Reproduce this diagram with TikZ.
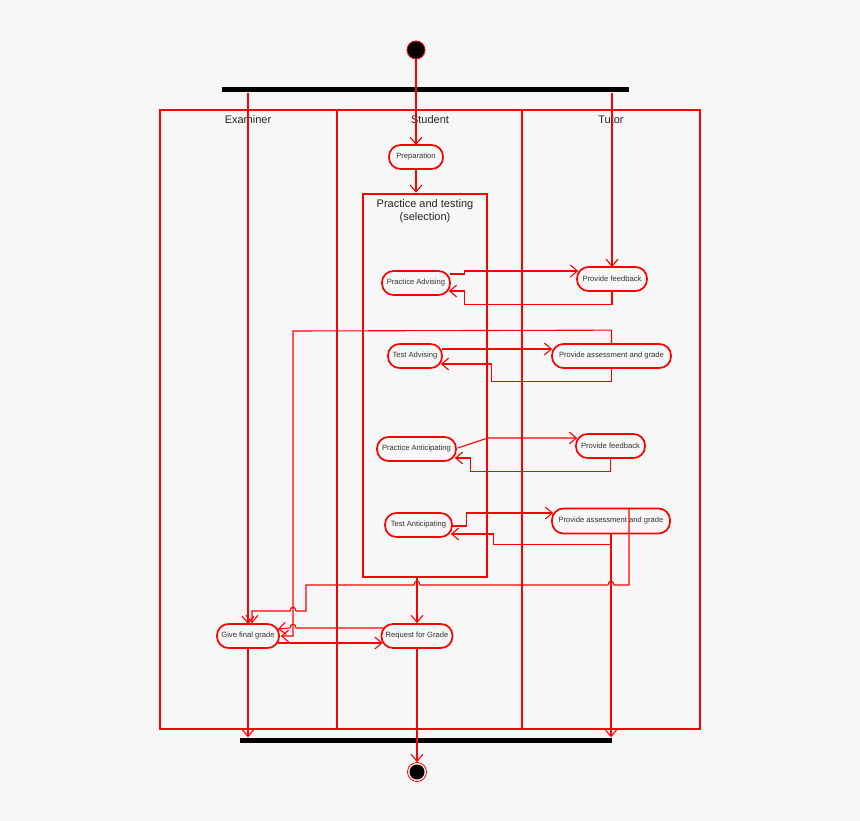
\documentclass[tikz,border=0pt]{standalone}
\usepackage{fontspec}
\setmainfont{Liberation Sans}
\usetikzlibrary{arrows.meta,calc}
\definecolor{bg}{HTML}{F7F7F7}
\definecolor{ured}{HTML}{FF0000}
\definecolor{txt}{HTML}{333333}
\begin{document}
\begin{tikzpicture}[x=1pt,y=-1pt,
  act/.style={draw=ured,line width=1.7pt,rounded corners=11.5pt,fill=bg,inner sep=0pt,minimum height=24pt,text=txt,font=\fontsize{7.6}{9}\selectfont},
  flow/.style={draw=ured,line width=1.1pt,-{Straight Barb[length=7pt,width=12pt]}},
  lane/.style={draw=ured,line width=2.6pt},
  barnode/.style={fill=black,inner sep=0pt,minimum height=5pt},
  title/.style={font=\fontsize{11}{13}\selectfont,text=black!85,inner sep=0pt}]
\fill[bg] (0,0) rectangle (860,821);
\useasboundingbox (0,0) rectangle (860,821);
% swimlanes
\draw[lane] (160,110) rectangle (700,729);
\draw[lane] (337,110) -- (337,729);
\draw[lane] (522,110) -- (522,729);
\node[title] (lex) at (248,120) {Examiner};
\node[title] (lst) at (430,120) {Student};
\node[title] (ltu) at (611,120) {Tutor};
% bars
\node[barnode,minimum width=407pt] (fork) at (425.5,90) {};
\node[barnode,minimum width=372pt] (join) at (426,740) {};
% start / end
\node[circle,fill=black,draw=ured,line width=0.8pt,minimum size=18pt,inner sep=0pt] (start) at (416,50) {};
\node[circle,draw=ured,line width=0.8pt,minimum size=19pt,inner sep=0pt] (endo) at (417,772) {};
\node[circle,fill=black,minimum size=15pt,inner sep=0pt] (endi) at (417,772) {};
% composite box
\node[draw=ured,line width=2.6pt,minimum width=124pt,minimum height=383pt,inner sep=0pt] (box) at (425,385.5) {};
\node[font=\fontsize{11}{13.5}\selectfont,align=center,text=black!85,inner sep=0pt] (boxt) at (425,211) {Practice and testing\\(selection)};
% connectors from fork
\draw[flow] (start.south) -- (416,145);
\draw[flow] (fork.south -| 248,0) -- (248,624);
\draw[flow] (fork.south -| 612,0) -- (612,267);
\draw[flow] (416,169) -- (box.north -| 416,0);
% nodes
\node[act,minimum width=54pt] (prep) at (416,157) {Preparation};
\node[act,minimum width=68pt] (pa) at (416,283) {Practice Advising};
\node[act,minimum width=70pt] (pf1) at (612,279) {Provide feedback};
\node[act,minimum width=54pt] (ta) at (415,356) {Test Advising};
\node[act,minimum width=119pt] (pag1) at (611.5,356) {Provide assessment and grade};
\node[act,minimum width=79pt] (pant) at (416.5,449) {Practice Anticipating};
\node[act,minimum width=69pt] (pf2) at (610.5,446) {Provide feedback};
\node[act,minimum width=67pt] (tant) at (418.5,525) {Test Anticipating};
\node[act,minimum width=118pt,minimum height=25pt] (pag2) at (611,521) {Provide assessment and grade};
\node[act,minimum width=71pt] (rfg) at (417,636) {Request for Grade};
\node[act,minimum width=62pt] (gfg) at (248,636) {Give final grade};
% flows between activities
\draw[flow] ($(pa.east)+(-1,-9)$) -- ++(15,0) -- ++(0,-3) -- ($(pf1.west)+(2,-8)$);
\draw[flow] (pf1.south) -- ++(0,13) -| ($(pa.east)+(14,8)$) -- ($(pa.east)+(-2,8)$);
\draw[flow] ($(ta.east)+(-1,-7)$) -- ($(pag1.west)+(1,-7)$);
\draw[flow] (pag1.south) -- ++(0,13) -| ($(ta.east)+(49,8)$) -- ($(ta.east)+(-2,8)$);
\draw[flow] (pag1.north) -- ++(0,-13) -- (293,331) -- (293,636) -- ($(gfg.east)+(1,0)$);
\draw[flow] ($(pant.east)+(1,-1)$) -- (488,438) -- ($(pf2.west)+(2,-8)$);
\draw[flow] (pf2.south) -- ++(0,13) -| ($(pant.east)+(14,9)$) -- ($(pant.east)+(-2,9)$);
\draw[flow] ($(tant.east)+(-1,1)$) -- ++(15,0) |- ($(pag2.west)+(2,-8)$);
\draw[flow] (pag2.south) -- ++(0,10) -| ($(tant.east)+(41,9)$) -- ($(tant.east)+(-2,9)$);
\draw[flow] (pag2.south) -- (pag2.south |- join.north);
\draw[flow] (box.south -| rfg.north) -- (rfg.north);
\draw[flow] ($(rfg.west)+(3,-8)$) -- (296,628) .. controls (296,623) and (290,623) .. (290,628) -- ($(gfg.east)+(-2,-7)$);
\draw[flow] ($(gfg.east)+(-2,7)$) -- ($(rfg.west)+(2,7)$);
\draw[flow] (gfg.south) -- (gfg.south |- join.north);
\draw[flow] (rfg.south) -- (endo.north);
\draw[flow] ($(pag2.north)+(18,0)$) -- (629,585) -- (614,585) .. controls (614,580) and (608,580) .. (608,585)
  -- (420,585) .. controls (420,580) and (414,580) .. (414,585) -- (306,585) -- (306,611)
  -- (296,611) .. controls (296,606) and (290,606) .. (290,611) -- (252,611) -- ($(gfg.north)+(4,0)$);
\end{tikzpicture}
\end{document}
